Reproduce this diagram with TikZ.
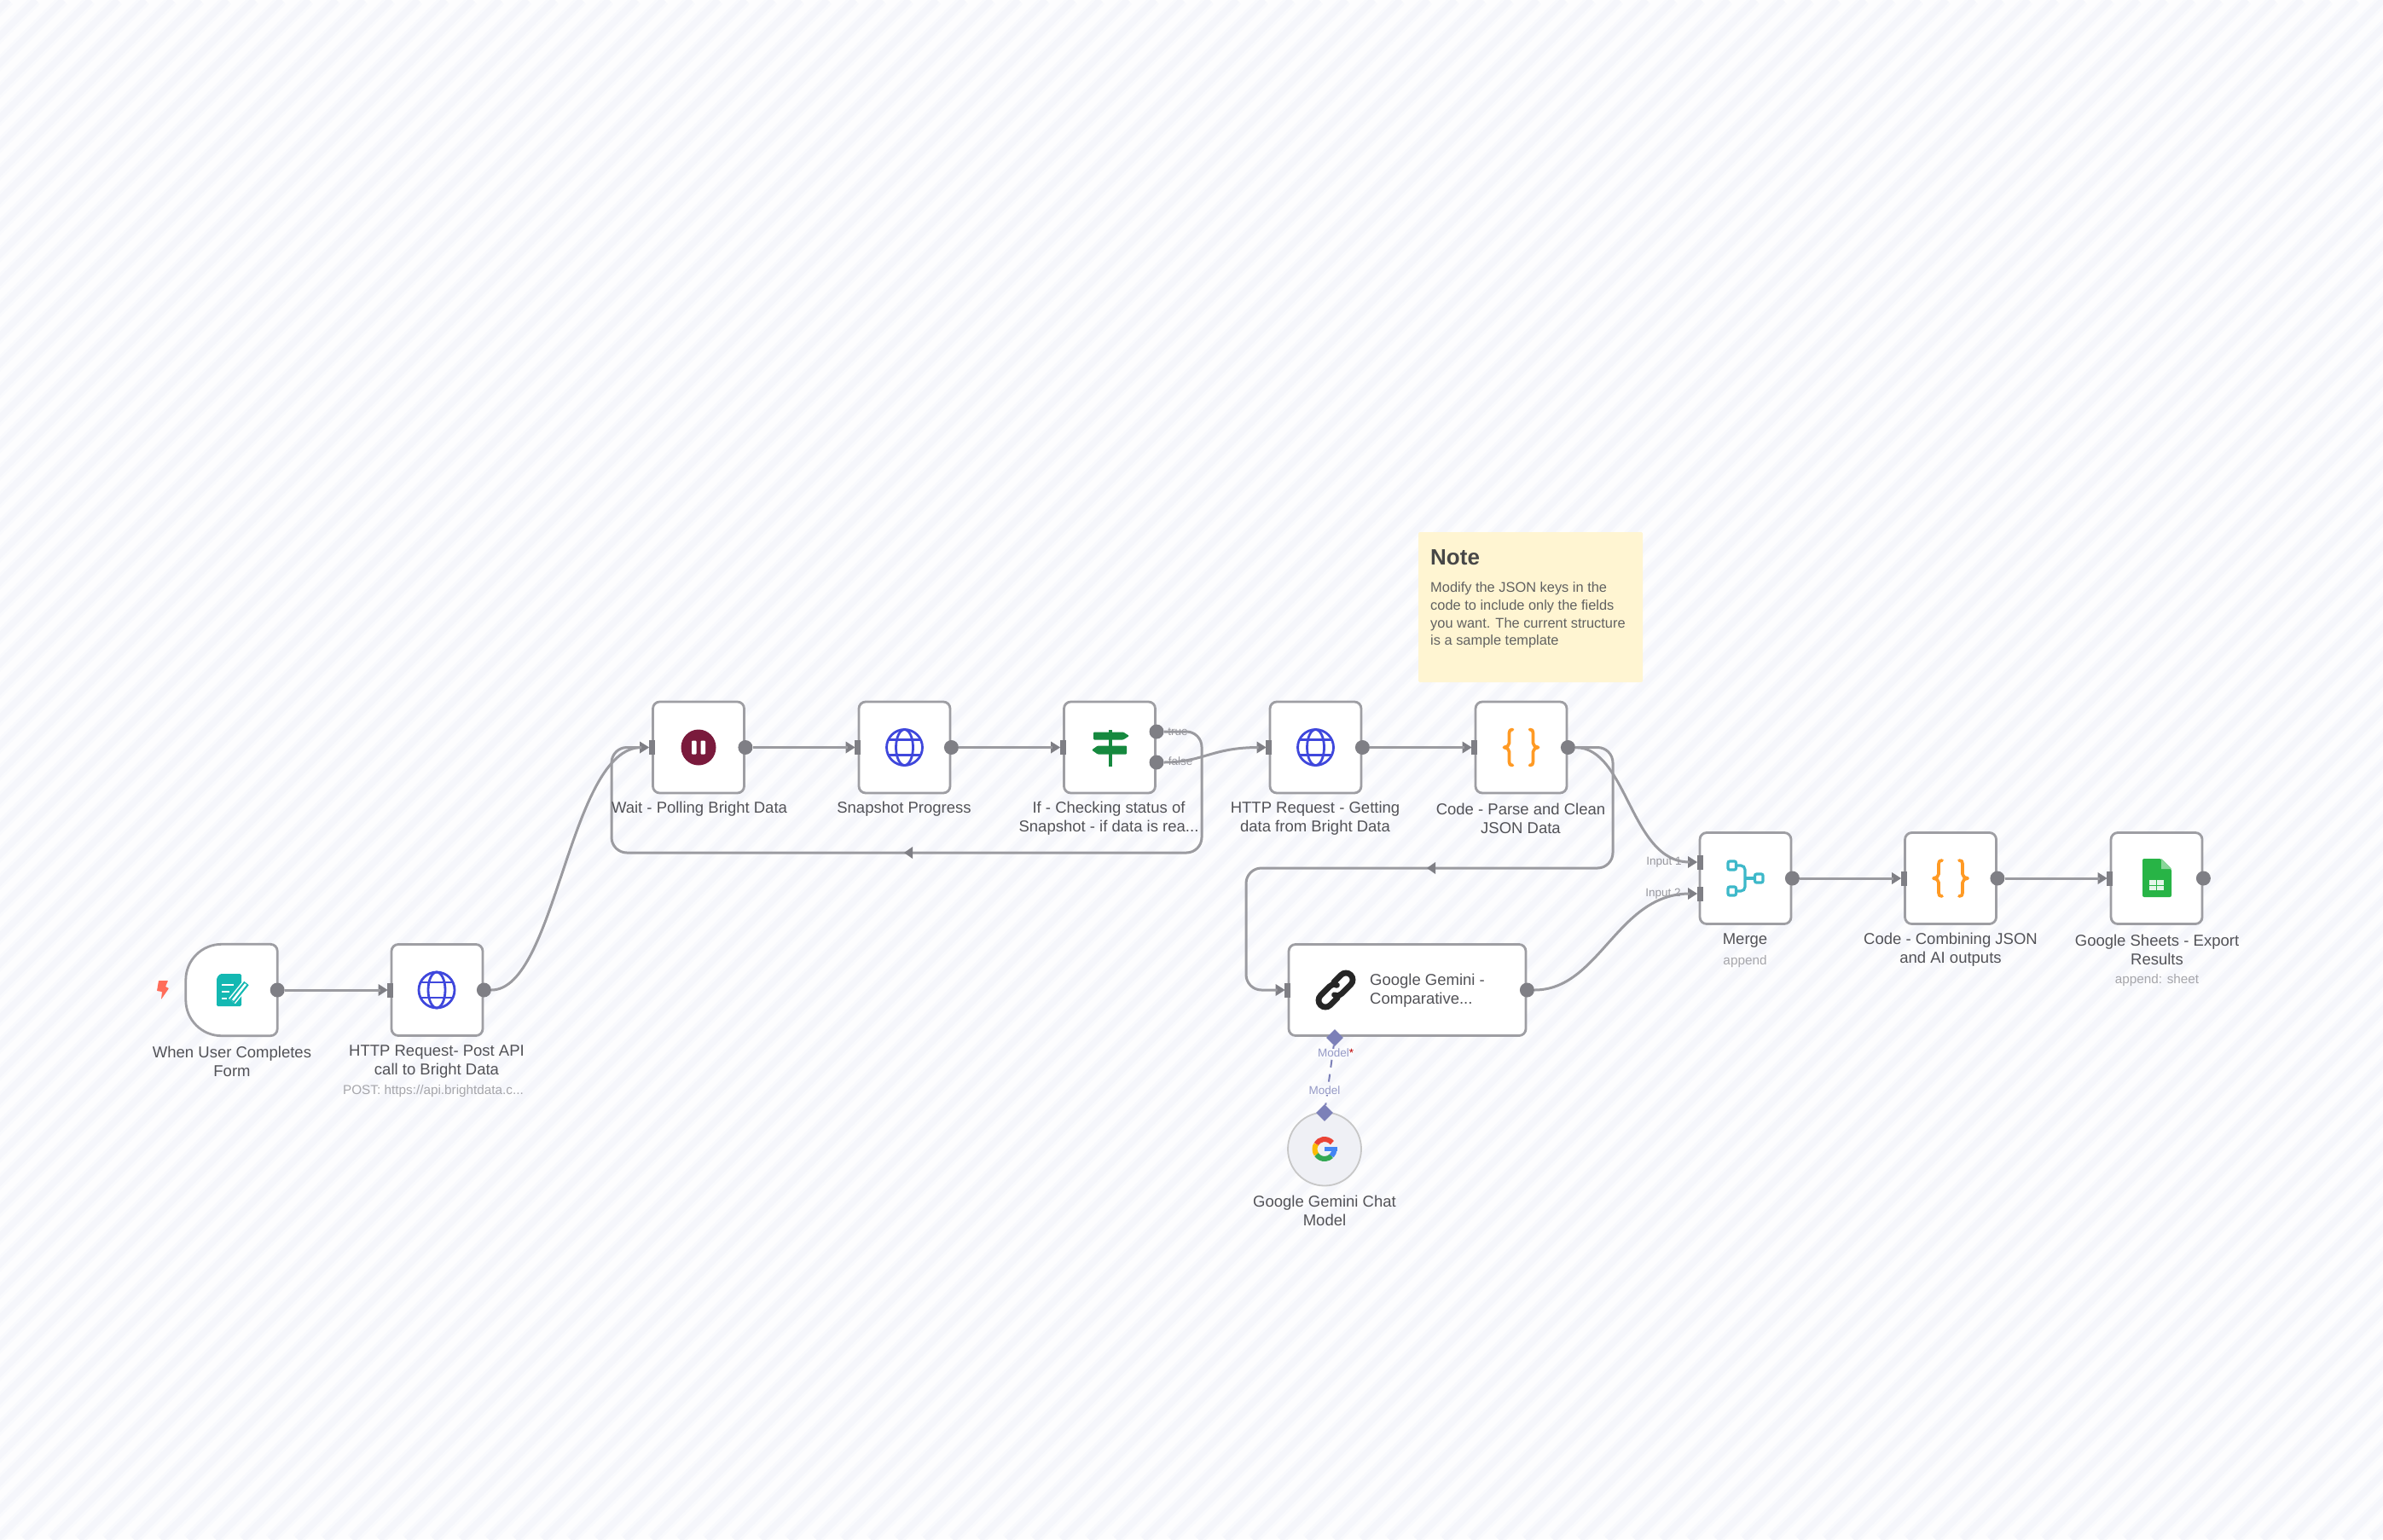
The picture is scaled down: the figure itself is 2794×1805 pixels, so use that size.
\documentclass[tikz,border=0pt]{standalone}
\usepackage{fontspec}
\setmainfont{Liberation Sans}
\usetikzlibrary{calc,shapes.geometric}
\definecolor{bgbase}{HTML}{FDFDFE}
\definecolor{bgmid}{HTML}{F9FAFD}
\definecolor{bgdark}{HTML}{F5F6FB}
\definecolor{wire}{HTML}{9B9BA0}
\definecolor{portc}{HTML}{7F7F85}
\definecolor{edgec}{HTML}{9E9EA3}
\definecolor{labelc}{HTML}{525257}
\definecolor{subc}{HTML}{A6A6AB}
\definecolor{edgetxt}{HTML}{98989E}
\definecolor{modelc}{HTML}{7C80B8}
\definecolor{globec}{HTML}{3F47DC}
\definecolor{bracec}{HTML}{FF9A24}
\definecolor{formc}{HTML}{14B8B2}
\definecolor{mergec}{HTML}{3DB8C9}
\definecolor{waitc}{HTML}{7A1A3C}
\definecolor{ifc}{HTML}{16893F}
\definecolor{sheetc}{HTML}{28B446}
\definecolor{notec}{HTML}{FFF5D2}
\definecolor{chatfill}{HTML}{EFF0F5}
\definecolor{gred}{HTML}{EA4335}
\definecolor{gyellow}{HTML}{FBBC05}
\definecolor{ggreen}{HTML}{34A853}
\definecolor{gblue}{HTML}{4285F4}
\definecolor{boltc}{HTML}{FF6D5A}
\tikzset{
  nbox/.style={draw=edgec,line width=2.8pt,fill=white,rounded corners=8pt,minimum width=107pt,minimum height=107pt,inner sep=0pt},
  ghostbox/.style={minimum width=107pt,minimum height=107pt,inner sep=0pt},
  portdot/.style={circle,fill=portc,minimum size=17pt,inner sep=0pt},
  portbar/.style={rectangle,fill=portc,minimum width=7pt,minimum height=17pt,inner sep=0pt},
  wireln/.style={draw=wire,line width=3pt},
  lbl/.style={text=labelc,font=\fontsize{18.5}{22}\selectfont,align=center,inner sep=0pt},
  sublbl/.style={text=subc,font=\fontsize{15.3}{18}\selectfont,inner sep=0pt},
  edgelbl/.style={text=edgetxt,font=\fontsize{13.5}{16}\selectfont,inner sep=0pt},
  modellbl/.style={text=modelc!80,font=\fontsize{13.5}{16}\selectfont,inner sep=0pt},
  mdiamond/.style={diamond,fill=modelc,minimum size=20pt,inner sep=0pt},
  globe/.pic={
    \draw[globec,line width=2.8pt] (0,0) circle (21);
    \draw[globec,line width=2.8pt] (0,0) ellipse (10 and 21);
    \draw[globec,line width=2.8pt] (-19,-9) -- (19,-9) (-19,9) -- (19,9);
  },
  braces/.pic={
    \draw[bracec,line width=3.7pt,line cap=round,line join=round]
      (-10,-21) .. controls (-13,-21) and (-14,-20) .. (-14,-17) -- (-14,-5) .. controls (-14,-2) and (-17,0) .. (-20,0)
      .. controls (-17,0) and (-14,2) .. (-14,5) -- (-14,17) .. controls (-14,20) and (-13,21) .. (-10,21)
      (10,-21) .. controls (13,-21) and (14,-20) .. (14,-17) -- (14,-5) .. controls (14,-2) and (17,0) .. (20,0)
      .. controls (17,0) and (14,2) .. (14,5) -- (14,17) .. controls (14,20) and (13,21) .. (10,21);
  },
  formicon/.pic={
    \fill[formc,rounded corners=1.5pt] (-10,-19) -- (15,-19) -- (15,19) -- (-14,19) -- (-14,-14) -- cycle;
    \draw[white,line width=2pt] (-8,-6) -- (6,-6) (-8,2) -- (1,2) (-8,10) -- (-2,10);
    \draw[white,line width=10pt] (4,13) -- (21,-8);
    \draw[formc,line width=7pt] (4,13) -- (21,-8);
    \draw[white,line width=2.6pt] (5,12) -- (20,-7);
  },
  pauseicon/.pic={
    \fill[waitc] (0,0) ellipse (20.5 and 21);
    \fill[white,rounded corners=1pt] (-8,-8) rectangle (-2.5,8);
    \fill[white,rounded corners=1pt] (2.5,-8) rectangle (8,8);
  },
  signicon/.pic={
    \fill[ifc] (-2,-21) rectangle (2,22);
    \fill[ifc,rounded corners=1pt] (-20,-18) -- (15,-18) -- (22,-13.5) -- (15,-9) -- (-20,-9) -- cycle;
    \fill[ifc,rounded corners=1pt] (19,-2) -- (-15,-2) -- (-22,3) -- (-15,8) -- (19,8) -- cycle;
  },
  mergeicon/.pic={
    \draw[mergec,line width=3.2pt,rounded corners=5pt] (-10.5,-15) -| (0,0) (-10.5,15) -| (0,0);
    \draw[mergec,line width=3.2pt] (0,0) -- (11.5,0);
    \draw[mergec,line width=3.2pt,rounded corners=2pt] (-20,-20) rectangle (-10.5,-10);
    \draw[mergec,line width=3.2pt,rounded corners=2pt] (-20,10) rectangle (-10.5,20);
    \draw[mergec,line width=3.2pt,rounded corners=2pt] (11.5,-5) rectangle (21,5);
  },
  sheeticon/.pic={
    \fill[sheetc,rounded corners=2pt] (-17,-23) -- (5,-23) -- (17,-11) -- (17,22) -- (-17,22) -- cycle;
    \fill[sheetc!55!white] (5,-23) -- (17,-11) -- (5,-11) -- cycle;
    \fill[white!88!sheetc] (-9,2) rectangle (8,14);
    \draw[sheetc,line width=1pt] (-9,8) -- (8,8) (-0.5,2) -- (-0.5,14);
  },
  chainicon/.pic={
    \begin{scope}[yscale=-1,rotate=-45]
      \draw[black!85,line width=6.8pt,line cap=round]
        (5,3) .. controls (4,7) and (1,8) .. (-2,8) -- (-17,8) arc[start angle=90,end angle=270,radius=8] -- (-5,-8)
        (-5,-3) .. controls (-4,-7) and (-1,-8) .. (2,-8) -- (17,-8) arc[start angle=-90,end angle=90,radius=8] -- (5,8);
    \end{scope}
  },
  gicon/.pic={
    \begin{scope}[yscale=-1]
      \draw[gred,line width=6pt] (40:11.5) arc[start angle=40,end angle=150,radius=11.5];
      \draw[gyellow,line width=6pt] (150:11.5) arc[start angle=150,end angle=215,radius=11.5];
      \draw[ggreen,line width=6pt] (215:11.5) arc[start angle=215,end angle=315,radius=11.5];
      \draw[gblue,line width=6pt] (315:11.5) arc[start angle=315,end angle=360,radius=11.5];
      \fill[gblue] (0,-2.5) rectangle (14.5,2.8);
    \end{scope}
  },
}
\newcommand{\inport}[2]{%
  \node[portbar] (#1) at (#2) {};
  \coordinate (#1-a) at ([xshift=-12pt]#1.center);
  \fill[portc] ([xshift=-3pt]#1.center) -- ([xshift=-14pt,yshift=7pt]#1.center) -- ([xshift=-14pt,yshift=-7pt]#1.center) -- cycle;
}
\begin{document}
\begin{tikzpicture}[x=1pt,y=-1pt]
\useasboundingbox (0,0) rectangle (2794,1805);
% background
\fill[bgbase] (0,0) rectangle (2794,1805);
\begin{scope}
  \clip (0,0) rectangle (2794,1805);
  \foreach \i in {0,...,145} {
    \pgfmathsetmacro{\xa}{\i*32+10}
    \draw[bgmid,line width=14pt] (\xa,0) -- (\xa-1805,1805);
    \draw[bgdark,line width=8pt] (\xa,0) -- (\xa-1805,1805);
  }
\end{scope}
% note
\node[fill=notec,rounded corners=2pt,minimum width=263pt,minimum height=176pt,inner sep=0pt] (note) at (1794.5,712) {};
% boxes
\node[ghostbox] (form) at (271.5,1161) {};
\draw[edgec,line width=2.8pt,fill=white]
  (form.north) [rounded corners=8pt] -- (form.north east) -- (form.south east) -- (form.south) [rounded corners=42pt] -- (form.south west) -- (form.north west) -- (form.north);
\node[nbox] (http1) at (512.5,1161) {};
\node[nbox] (wait) at (819,876.5) {};
\node[nbox] (snap) at (1060.5,876.5) {};
\node[nbox] (ifn) at (1301,876.5) {};
\node[nbox] (http2) at (1542.5,876.5) {};
\node[nbox] (code) at (1783.5,876.5) {};
\node[nbox] (merge) at (2046.5,1030) {};
\node[nbox] (codeb) at (2287,1030) {};
\node[nbox] (sheets) at (2528.5,1030) {};
\node[nbox,minimum width=278pt] (gem) at (1650,1161) {};
\node[circle,draw=black!22,line width=1.8pt,fill=chatfill,minimum size=86pt,inner sep=0pt] (chat) at (1553,1347.5) {};
% output ports
\node[portdot] (form-o) at (form.east) {};
\node[portdot] (http1-o) at (http1.east) {};
\node[portdot] (wait-o) at (wait.east) {};
\node[portdot] (snap-o) at (snap.east) {};
\node[portdot] (if-t) at (1356,858) {};
\node[portdot] (if-f) at (1356,894) {};
\node[portdot] (http2-o) at (http2.east) {};
\node[portdot] (code-o) at (code.east) {};
\node[portdot] (merge-o) at (merge.east) {};
\node[portdot] (codeb-o) at (codeb.east) {};
\node[portdot] (sheets-o) at (sheets.east) {};
\node[portdot] (gem-o) at (gem.east) {};
% input ports
\inport{http1-i}{http1.west}
\inport{wait-i}{wait.west}
\inport{snap-i}{snap.west}
\inport{if-i}{ifn.west}
\inport{http2-i}{http2.west}
\inport{code-i}{code.west}
\inport{merge-i}{1993,1011}
\inport{mergeb-i}{1993,1048}
\inport{codeb-i}{codeb.west}
\inport{sheets-i}{sheets.west}
\inport{gem-i}{gem.west}
% connectors
\draw[wireln] (form-o) -- (http1-i-a);
\draw[wireln] (http1-o) .. controls +(85,0) and ($(wait-i-a)+(-85,0)$) .. (wait-i-a);
\draw[wireln] (wait-o) -- (snap-i-a);
\draw[wireln] (snap-o) -- (if-i-a);
\draw[wireln,rounded corners=18pt] (if-t) -- (1409,858) -- (1409,1000) -- (717,1000) -- (717,876.5) -- (wait-i-a);
\draw[wireln] (if-f) .. controls +(55,0) and ($(http2-i-a)+(-55,0)$) .. (http2-i-a);
\draw[wireln] (http2-o) -- (code-i-a);
\draw[wireln] (code-o) .. controls +(70,0) and ($(merge-i-a)+(-70,0)$) .. (merge-i-a);
\draw[wireln,rounded corners=18pt] (code-o) -- (1891,876.5) -- (1891,1018) -- (1461,1018) -- (1461,1161) -- (gem-i-a);
\draw[wireln] (gem-o) .. controls +(85,0) and ($(mergeb-i-a)+(-85,0)$) .. (mergeb-i-a);
\draw[wireln] (merge-o) -- (codeb-i-a);
\draw[wireln] (codeb-o) -- (sheets-i-a);
\fill[portc] (1060,1000) -- (1070,993) -- (1070,1007) -- cycle;
\fill[portc] (1673,1018) -- (1683,1011) -- (1683,1025) -- cycle;
% model link
\node[mdiamond] (dtop) at (1565,1217) {};
\node[mdiamond] (dbot) at (1553,1305) {};
\draw[modelc,line width=2pt,dash pattern=on 9pt off 8pt] (dtop) -- (dbot);
\node[modellbl,fill=bgmid] (mt) at (1566,1235) {Model\textcolor{red!75!black}{*}};
\node[modellbl,fill=bgmid] (mb) at (1553,1279) {Model};
% lightning
\fill[boltc,rounded corners=0.6pt] (186,1150) -- (197,1150) -- (194,1157) -- (198,1159) -- (189,1172) -- (190,1163) -- (184,1162) -- cycle;
% icons
\pic at (268,1161) {formicon};
\pic at (512,1161) {globe};
\pic at (819,876.5) {pauseicon};
\pic at (1060.5,876.5) {globe};
\pic at (1302,876.5) {signicon};
\pic at (1542.5,876.5) {globe};
\pic at (1783.5,876.5) {braces};
\pic at (2046,1030) {mergeicon};
\pic at (2287,1030) {braces};
\pic at (2529,1030) {sheeticon};
\pic at (1566,1161) {chainicon};
\pic at (1553,1347.5) {gicon};
% labels
\node[lbl] (form-l) at (272,1245) {When User Completes\\Form};
\node[lbl] (http1-l) at (512,1245) {HTTP Request- Post API\\call to Bright Data};
\node[sublbl] (http1-s) at (508,1280) {POST: https://api.brightdata.c...};
\node[lbl] (wait-l) at (820,949) {Wait - Polling Bright Data};
\node[lbl] (snap-l) at (1060,949) {Snapshot Progress};
\node[lbl] (if-l) at (1300,960) {If - Checking status of\\Snapshot - if data is rea...};
\node[lbl] (http2-l) at (1542,960) {HTTP Request - Getting\\data from Bright Data};
\node[lbl] (code-l) at (1783,960) {Code - Parse and Clean\\JSON Data};
\node[lbl] (merge-l) at (2046,1103) {Merge};
\node[sublbl] (merge-s) at (2046,1128) {append};
\node[lbl] (codeb-l) at (2287,1113.5) {Code - Combining JSON\\and AI outputs};
\node[lbl] (sheets-l) at (2529,1113.5) {Google Sheets - Export\\Results};
\node[sublbl] (sheets-s) at (2529,1150) {append: sheet};
\node[lbl] (chat-l) at (1553,1419.5) {Google Gemini Chat\\Model};
\node[lbl,anchor=west,align=left] (gem-l) at (1606,1161.5) {Google Gemini -\\Comparative...};
% edge labels
\node[edgelbl] (true-l) at (1381,858) {true};
\node[edgelbl] (false-l) at (1384,893) {false};
\node[edgelbl] (in1-l) at (1951,1011) {Input 1};
\node[edgelbl] (in2-l) at (1950,1048) {Input 2};
% note text
\node[anchor=west,inner sep=0pt,text=black!72,font=\bfseries\fontsize{26}{30}\selectfont] (note-t) at (1677,653.5) {Note};
\node[anchor=north west,inner sep=0pt,text=black!62,align=left,font=\fontsize{16.4}{20.8}\selectfont] (note-b) at (1677,682.5) {Modify the JSON keys in the\\code to include only the fields\\you want. The current structure\\is a sample template};
\end{tikzpicture}
\end{document}
